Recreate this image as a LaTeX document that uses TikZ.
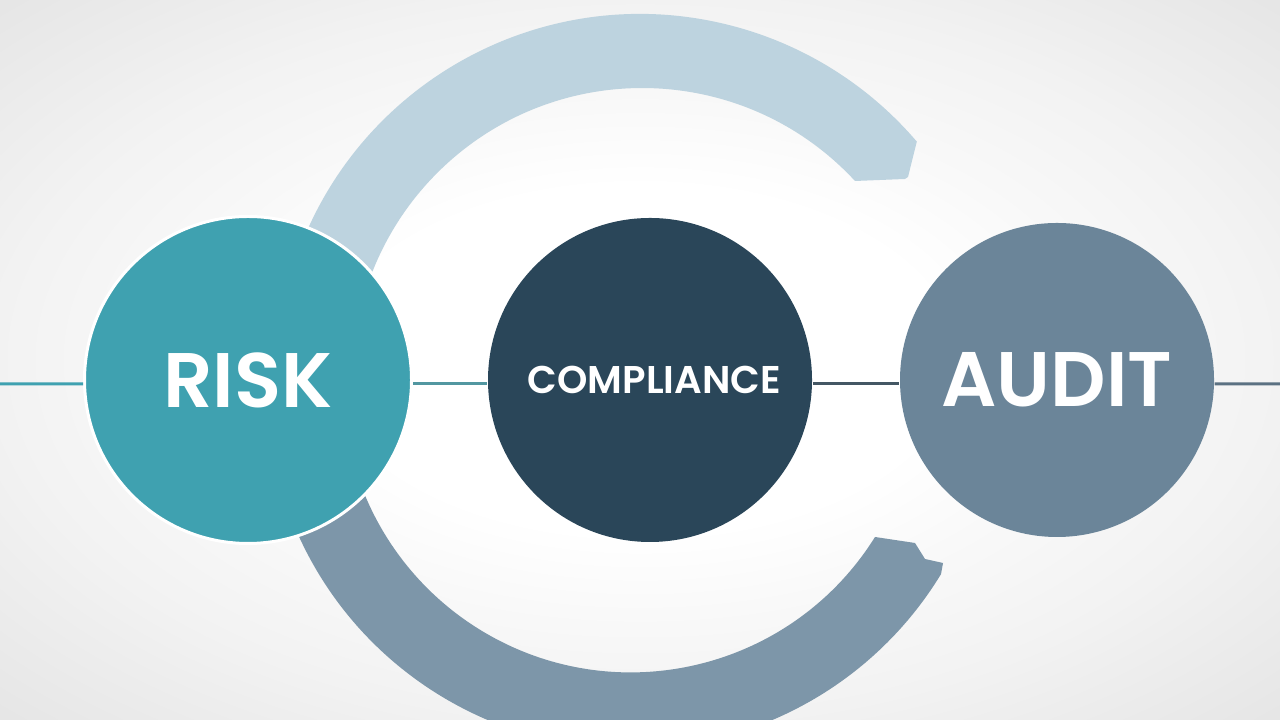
\documentclass[tikz,border=0pt]{standalone}
\usepackage{xcolor}
\usepackage{fontspec}
\setmainfont{Poppins}[UprightFont=* SemiBold]
\definecolor{riskteal}{HTML}{3FA1B0}
\definecolor{compliancenavy}{HTML}{2A4659}
\definecolor{auditslate}{HTML}{6B8599}
\definecolor{toparc}{HTML}{BDD3DF}
\definecolor{bottomarc}{HTML}{7D96A9}
\pgfdeclareradialshading{softglow}{\pgfpoint{0bp}{0bp}}{color(0bp)=(white); color(12bp)=(white); color(18bp)=(white!97.5!black); color(25bp)=(white!95!black); color(28bp)=(white!93.5!black); color(35.4bp)=(white!90!black); color(50bp)=(white!90!black)}
\begin{document}
\begin{tikzpicture}[
    bubble/.style={circle, inner sep=0pt, text=white},
    link/.style={line width=0.03cm}
  ]
  \clip (0,0) rectangle (12.8,7.2);
  \shade[shading=softglow] (0,0) rectangle (12.8,7.2);
  % arcs behind the circles
  \fill[toparc] (6.40,3.42) ++(165:3.64) arc (165:40.5:3.64) -- (9.08,5.43) -- (9.05,5.41) -- (8.55,5.39)
    arc (42.8:165:2.9) -- cycle;
  \fill[bottomarc] (6.30,3.35) ++(195:3.64) arc (195:328.7:3.64) -- (9.43,1.57) -- (9.25,1.61) -- (9.15,1.77) -- (8.75,1.83)
    arc (328:195:2.88) -- cycle;
  % the three circles
  \node[bubble, fill=riskteal, draw=white, line width=0.03cm, minimum size=3.27cm] (risk) at (2.48,3.40) {};
  \node[bubble, fill=compliancenavy, minimum size=3.24cm] (compliance) at (6.50,3.40) {};
  \node[bubble, fill=auditslate, minimum size=3.14cm] (audit) at (10.57,3.40) {};
  \coordinate (leftend) at (0,3.36);
  \coordinate (rightend) at (12.8,3.36);
  \draw[link, riskteal] (leftend) -- ([yshift=-0.04cm]risk.west);
  \draw[link, riskteal!70!gray] ([yshift=-0.04cm]risk.east) -- ([yshift=-0.04cm]compliance.west);
  \draw[link, compliancenavy!70!gray] ([yshift=-0.04cm]compliance.east) -- ([yshift=-0.04cm]audit.west);
  \draw[link, auditslate!85!black] ([yshift=-0.04cm]audit.east) -- (rightend);
  \node[text=white, font=\fontsize{22}{24}\selectfont] at (risk) {RISK};
  \node[text=white, font=\fontsize{11}{14}\selectfont, xshift=0.045cm] at (compliance) {COMPLIANCE};
  \node[text=white, font=\fontsize{22}{24}\selectfont] at (audit) {AUDIT};
\end{tikzpicture}
\end{document}
